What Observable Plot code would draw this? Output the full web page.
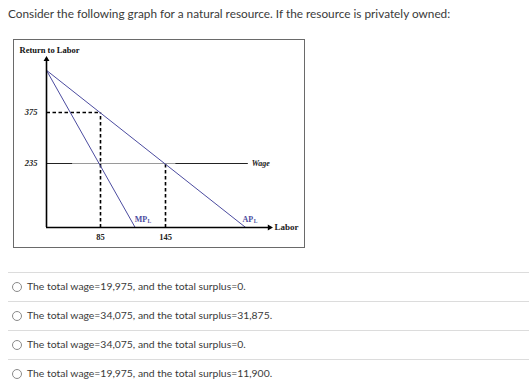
<!DOCTYPE html>
<html><head><meta charset="utf-8">
<script src="https://cdn.jsdelivr.net/npm/d3@7"></script>
<script src="https://cdn.jsdelivr.net/npm/@observablehq/plot@0.6"></script>
<style>
html,body{margin:0;padding:0;background:#fff}
body{width:529px;height:388px;position:relative;overflow:hidden;font-family:Lato,"Open Sans",sans-serif;color:#3a3a3a}
#q{position:absolute;left:8px;top:6px;font-size:11.8px;white-space:nowrap}
#box{position:absolute;left:13px;top:39px;width:290px;height:207px;border:1px solid #6a6a6a}
#box svg{display:block}
.opt{position:absolute;left:8px;right:0;height:28px;border-top:1px solid #dcdcdc;font-size:10.4px;white-space:nowrap}
.opt .r{position:absolute;left:4px;top:9px;width:8px;height:8px;border:1px solid #8a8a8a;border-radius:50%}
.opt .t{position:absolute;left:19px;top:7px}
</style></head>
<body>
<div id="q"></div>
<div id="box"></div>
<div id="opts"></div>
<script>
// ---- data ----
const question = "Consider the following graph for a natural resource. If the resource is privately owned:";
const answers = [
  "The total wage=19,975, and the total surplus=0.",
  "The total wage=34,075, and the total surplus=31,875.",
  "The total wage=34,075, and the total surplus=0.",
  "The total wage=19,975, and the total surplus=11,900."
];
const yTicks = [235, 375];
const xTicks = [85, 145];
const wage = 235;
const apAtMP = 375;
const laborMP = 85;     // MP = wage
const laborAP = 145;    // AP = wage
const intercept = 490;  // where MP and AP start
const mpEnd = 117;      // MP reaches 0
const apEnd = 219;      // AP reaches 0
const xMax = 241, yMax = 520;
const wageEnd = 221;
const wageSegments = [
  {x1: 0, x2: 41, tone: "dark"},
  {x1: 41, x2: 154, tone: "light"},
  {x1: 154, x2: wageEnd, tone: "dark"}
];
const mp = [{labor: 0, ret: intercept}, {labor: mpEnd, ret: 0}];
const ap = [{labor: 0, ret: intercept}, {labor: apEnd, ret: 0}];
const curveLabels = [
  {labor: 128, ret: 29, name: "MP", sub: "L"},
  {labor: 226, ret: 29, name: "AP", sub: "L"}
];
const dashes = [
  {x1: 0, y1: apAtMP, x2: laborMP, y2: apAtMP},
  {x1: laborMP, y1: 0, x2: laborMP, y2: apAtMP},
  {x1: laborAP, y1: 0, x2: laborAP, y2: wage}
];
// schematic (not-to-scale) axes: piecewise mapping of the labelled values
const xStops = [0, 85, 145, 241], xPos = [32, 86, 151, 255];
const yStops = [0, 235, 375, 525], yPos = [20, 84, 135, 190];

document.getElementById("q").textContent = question;
const optsDiv = document.getElementById("opts");
answers.forEach((a, i) => {
  const d = document.createElement("div");
  d.className = "opt";
  d.style.top = (272 + i * 29) + "px";
  d.innerHTML = '<span class="r"></span><span class="t"></span>';
  d.querySelector(".t").textContent = a;
  optsDiv.appendChild(d);
});

const fx = d3.scaleLinear().domain(xStops).range(xPos);
const fy = d3.scaleLinear().domain(yStops).range(yPos);
const serif = "'Liberation Serif','Times New Roman',serif";
const blue = "#4c4ca0";
const chart = Plot.plot({
  width: 290, height: 207,
  marginLeft: 32, marginRight: 35, marginTop: 17, marginBottom: 20,
  style: {fontFamily: serif, background: "transparent", overflow: "visible"},
  x: {type: "linear", transform: fx, domain: [32, 255], range: [32, 255]},
  y: {type: "linear", transform: fy, domain: [20, 190], range: [187, 17]},
  marks: [
    // wage line
    Plot.link(wageSegments, {x1: "x1", x2: "x2", y1: () => wage, y2: () => wage,
      stroke: d => d.tone === "dark" ? "#222" : "#9a9a9a", strokeWidth: 1}),
    // dashed guides
    Plot.link(dashes, {x1: "x1", y1: "y1", x2: "x2", y2: "y2", stroke: "#000", strokeWidth: 1.6, strokeDasharray: "3.5,2.5"}),
    // MP and AP
    Plot.line(mp, {x: "labor", y: "ret", stroke: blue, strokeWidth: 1}),
    Plot.line(ap, {x: "labor", y: "ret", stroke: blue, strokeWidth: 1}),
    // axes lines
    Plot.ruleX([0], {y1: () => 0, y2: () => yMax, stroke: "#000", strokeWidth: 1.6}),
    Plot.ruleY([0], {x1: () => 0, x2: () => xMax, stroke: "#000", strokeWidth: 1.6}),
    Plot.dot([{x: 0, y: yMax}], {x: "x", y: "y", symbol: "triangle", r: 2.2, fill: "#000", stroke: "none"}),
    Plot.dot([{x: xMax, y: 0}], {x: "x", y: "y", symbol: "triangle", r: 2.2, fill: "#000", stroke: "none", rotate: 90}),
    // tick labels
    Plot.axisY(yTicks, {tickSize: 0, tickPadding: 9, fontSize: 8.5, fontWeight: "bold", fontStyle: "italic", fill: "#222", label: null}),
    Plot.axisX(xTicks, {tickSize: 0, tickPadding: 6, fontSize: 8.5, fontWeight: "bold", fill: "#222", label: null}),
    // labels
    Plot.text([{x: wageEnd, y: wage}], {x: "x", y: "y", text: () => "Wage", dx: 4, textAnchor: "start", fontSize: 8, fontStyle: "italic", fontWeight: "bold", fill: "#222"}),
    Plot.text([{x: xMax, y: 0}], {x: "x", y: "y", text: () => "Labor", dx: 5, textAnchor: "start", fontSize: 9, fontWeight: "bold", fill: "#222"}),
    Plot.text(["Return to Labor"], {frameAnchor: "top-left", dx: -27, dy: -11, textAnchor: "start", fontSize: 8.5, fontWeight: "bold", fill: "#111"}),
    Plot.text(curveLabels, {x: "labor", y: "ret", text: "name", textAnchor: "end", fontSize: 8, fontWeight: "bold", fill: blue}),
    Plot.text(curveLabels, {x: "labor", y: "ret", text: "sub", textAnchor: "start", dx: 0.5, dy: 2, fontSize: 5.5, fontWeight: "bold", fill: blue})
  ]
});
document.getElementById("box").appendChild(chart);
</script>
</body></html>
